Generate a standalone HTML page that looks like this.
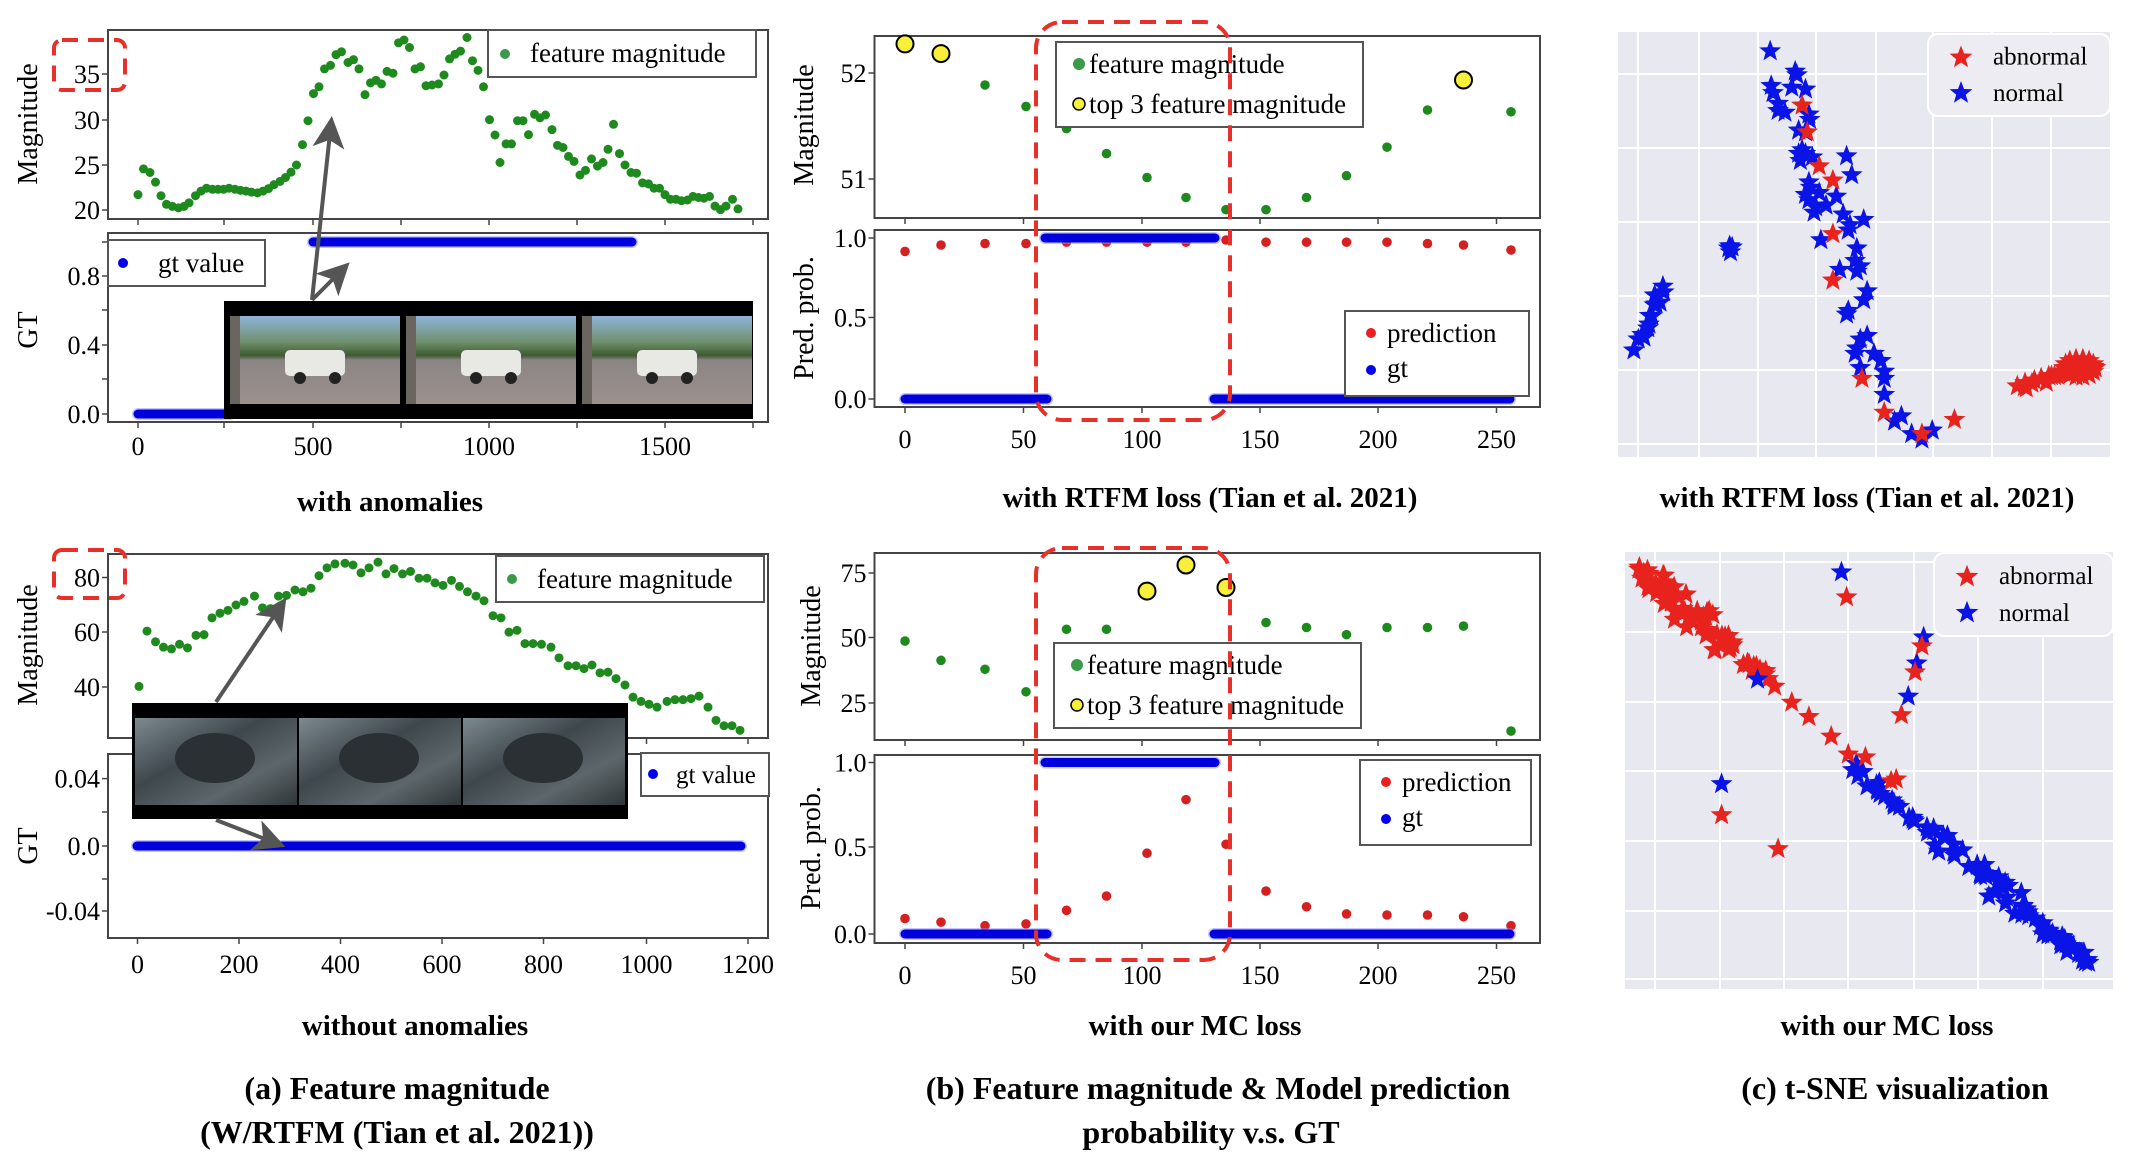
<!DOCTYPE html>
<html><head><meta charset="utf-8"><style>
html,body{margin:0;padding:0;background:#fff;}
svg{display:block;font-family:"Liberation Serif",serif;}
</style></head><body>
<svg id="s" width="2134" height="1162" viewBox="0 0 2134 1162" xmlns="http://www.w3.org/2000/svg">
<defs>
<linearGradient id="sky" x1="0" y1="0" x2="0" y2="1">
<stop offset="0" stop-color="#8fb4dc"/><stop offset="0.3" stop-color="#6f8f6a"/><stop offset="0.45" stop-color="#3d5a30"/><stop offset="0.5" stop-color="#8a8584"/><stop offset="1" stop-color="#9c918e"/>
</linearGradient>
<linearGradient id="night" x1="0" y1="0" x2="1" y2="1">
<stop offset="0" stop-color="#7d8a90"/><stop offset="0.4" stop-color="#3e474c"/><stop offset="0.7" stop-color="#5d676b"/><stop offset="1" stop-color="#2f3538"/>
</linearGradient>
<marker id="ah" markerWidth="8" markerHeight="8" refX="6" refY="4" orient="auto" markerUnits="strokeWidth"><path d="M0,0 L8,4 L0,8 L2,4 Z" fill="#555"/></marker>
</defs>
<g id="g"></g>
</svg>
<script>
const NS="http://www.w3.org/2000/svg";const G=document.getElementById('g');
function el(t,a,txt){const e=document.createElementNS(NS,t);for(const k in a)e.setAttribute(k,a[k]);if(txt!==undefined)e.textContent=txt;G.appendChild(e);return e;}
function txt(x,y,s,o){o=o||{};const a={x:x,y:y,'font-size':o.fs||26,'text-anchor':o.anchor||'middle',fill:'#000'};if(o.bold)a['font-weight']='bold';if(o.rot)a.transform='rotate(-90 '+x+' '+y+')';el('text',a,s);}
function box(x1,y1,x2,y2){el('rect',{x:x1,y:y1,width:x2-x1,height:y2-y1,fill:'none',stroke:'#444','stroke-width':2});}
function dot(x,y,r,f){el('circle',{cx:x,cy:y,r:r,fill:f});}
function yt(x,y,l,fs){el('line',{x1:x-6,y1:y,x2:x,y2:y,stroke:'#444','stroke-width':1.5});if(l!==null)txt(x-8,y+9,l,{anchor:'end',fs:fs||26});}
function xt(x,y,l,ly){el('line',{x1:x,y1:y,x2:x,y2:y+6,stroke:'#444','stroke-width':1.5});if(l!==null)txt(x,ly,l,{fs:26});}
function gtline(x1,x2,y){el('line',{x1:x1,y1:y,x2:x2,y2:y,stroke:'#8c8cff','stroke-width':12,'stroke-linecap':'round',opacity:0.5});el('line',{x1:x1,y1:y,x2:x2,y2:y,stroke:'#0000dd','stroke-width':9,'stroke-linecap':'round'});}
function legbox(x1,y1,x2,y2){el('rect',{x:x1,y:y1,width:x2-x1,height:y2-y1,fill:'#fff',stroke:'#555','stroke-width':2});}
function dashrect(x1,y1,x2,y2,r){el('rect',{x:x1,y:y1,width:x2-x1,height:y2-y1,rx:r,ry:r,fill:'none',stroke:'#e8302a','stroke-width':4,'stroke-dasharray':'16 10'});}
const GREEN='#1e8a1e';
box(108,30,768,219);
[[35,74],[30,120],[25,165],[20,210]].forEach(t=>yt(108,t[1],String(t[0])));
[138,224,313,401,489,577,665,753].forEach(x=>xt(x,219,null));
const aT=[[276,545],[287,473],[300,483],[311,510],[322,548],[333,572],[345,578],[357,582],[368,578],[378,568],[391,548],[402,535],[413,527],[425,530],[436,530],[447,530],[458,527],[470,530],[481,533],[492,535],[503,538],[515,540],[526,535],[537,528],[548,517],[560,508],[571,497],[582,482],[593,462],[605,405],[616,338],[627,262],[638,243],[649,193],[661,183],[672,153],[683,145],[696,175],[707,167],[718,193],[730,265],[741,232],[752,225],[763,235],[774,200],[786,205],[797,120],[808,112],[819,133],[830,193],[841,187],[852,240],[864,238],[877,235],[888,210],[899,165],[910,152],[921,143],[934,105],[945,170],[956,197],[967,243],[979,335],[990,378],[1000,455],[1012,403],[1023,403],[1035,338],[1046,338],[1057,377],[1069,320],[1080,330],[1091,322],[1104,363],[1115,407],[1126,413],[1137,438],[1148,452],[1160,490],[1171,477],[1183,445],[1195,465],[1206,455],[1216,418],[1227,348],[1239,430],[1250,462],[1262,483],[1273,485],[1285,512],[1297,515],[1308,527],[1319,527],[1330,545],[1341,558],[1352,558],[1363,562],[1375,560],[1386,550],[1397,553],[1408,555],[1419,550],[1430,577],[1441,587],[1452,577],[1465,558],[1476,585]];
aT.forEach(p=>dot(p[0]/2,p[1]/2.8,4.5,GREEN));
legbox(488,30,756,77);dot(505,54,5,'#3a9a4a');txt(530,62,'feature magnitude',{anchor:'start',fs:27});
txt(37,124,'Magnitude',{rot:1,fs:28});
dashrect(54,40,125,90,8);
box(108,233,768,422);
[[0.8,276,'0.8'],[0.6,310,null],[0.4,345,'0.4'],[0.2,379,null],[0,414,'0.0'],[1,242,null]].forEach(t=>yt(108,t[1],t[2]));
[138,224,313,401,489,577,665,753].forEach((x,i)=>xt(x,422,[ '0',null,'500',null,'1000',null,'1500',null][i],455));
gtline(138,230,414);gtline(313,632,242);
legbox(108,240,265,286);dot(123,263,5,'#0000ee');txt(158,272,'gt value',{anchor:'start',fs:27});
txt(37,330,'GT',{rot:1,fs:28});
el('rect',{x:224,y:301,width:529,height:118,fill:'#000'});
for(let i=0;i<3;i++){const x=230+i*176;el('rect',{x:x,y:316,width:170,height:88,fill:'url(#sky)'});
el('rect',{x:x,y:316,width:10,height:88,fill:'#6b6560'});
el('rect',{x:x+55,y:350,width:60,height:26,rx:5,fill:'#e8e8e4'});el('circle',{cx:x+70,cy:378,r:6,fill:'#222'});el('circle',{cx:x+105,cy:378,r:6,fill:'#222'});}
el('line',{x1:312,y1:300,x2:331,y2:124,stroke:'#555','stroke-width':4,'marker-end':'url(#ah)'});
el('line',{x1:312,y1:300,x2:344,y2:268,stroke:'#555','stroke-width':4,'marker-end':'url(#ah)'});
txt(390,511,'with anomalies',{bold:1,fs:29});
box(108,554,768,738);
[[80,577.5],[60,632],[40,687]].forEach(t=>yt(108,t[1],String(t[0])));
[137.5,239,340.5,442,543.5,646.5,748].forEach(x=>xt(x,738,null));
const aB=[[278,410],[294,255],[311,285],[327,300],[343,305],[359,292],[375,302],[392,267],[408,265],[424,218],[440,205],[456,197],[472,182],[488,172],[509,157],[525,190],[541,192],[557,157],[573,155],[590,140],[606,145],[622,135],[638,100],[654,78],[670,67],[690,65],[706,70],[722,92],[738,78],[756,62],[772,95],[788,80],[805,95],[821,88],[838,107],[854,107],[870,120],[886,127],[903,113],[919,130],[935,145],[952,157],[968,170],[986,212],[1002,218],[1018,258],[1034,253],[1050,290],[1066,290],[1083,292],[1102,300],[1118,330],[1136,352],[1152,352],[1168,360],[1184,350],[1200,372],[1216,370],[1232,388],[1250,406],[1266,440],[1282,452],[1298,460],[1314,468],[1334,452],[1350,447],[1366,447],[1382,444],[1398,437],[1416,468],[1432,505],[1448,520],[1464,520],[1480,533]];
aB.forEach(p=>dot(p[0]/2,540+p[1]/2.8,4.5,GREEN));
legbox(496,556,764,602);dot(512,579,5,'#3a9a4a');txt(537,588,'feature magnitude',{anchor:'start',fs:27});
txt(37,645,'Magnitude',{rot:1,fs:28});
dashrect(54,550,125,598,8);
box(108,754,768,938);
[[778.6,'0.04'],[812,null],[846,'0.0'],[879,null],[911,'-0.04']].forEach(t=>yt(108,t[0],t[1]));
['0','200','400','600','800','1000','1200'].forEach((l,i)=>xt([137.5,239,340.5,442,543.5,646.5,748][i],938,l,973));
gtline(137,741,846);
legbox(641,753,769,796);dot(653,774,5,'#0000ee');txt(676,783,'gt value',{anchor:'start',fs:25});
txt(37,846,'GT',{rot:1,fs:28});
el('rect',{x:132,y:703,width:496,height:116,fill:'#000'});
for(let i=0;i<3;i++){const x=135+i*164;el('rect',{x:x,y:718,width:162,height:87,fill:'url(#night)'});el('ellipse',{cx:x+80,cy:758,rx:40,ry:25,fill:'#2a3033'});}
el('line',{x1:216,y1:702,x2:282,y2:604,stroke:'#555','stroke-width':4,'marker-end':'url(#ah)'});
el('line',{x1:216,y1:820,x2:278,y2:844,stroke:'#555','stroke-width':4,'marker-end':'url(#ah)'});
txt(415,1035,'without anomalies',{bold:1,fs:29});
txt(397,1099,'(a) Feature magnitude',{bold:1,fs:32});
txt(397,1143,'(W/RTFM (Tian et al. 2021))',{bold:1,fs:32});
const bx=[250,322,410,492,573,653,734,812,892,972,1053,1133,1214,1295,1367,1462].map(v=>780+v/2);
const bxt=[905,1023.5,1142,1260,1378,1496.5];
function bPanel(oy,magBox,magTicks,magY,yel,predBox,predTicks,predY,legT,legB,gtLow,gtHigh){
 box(874.5,magBox[0],1540,magBox[1]);
 magTicks.forEach(t=>yt(874.5,t[1],t[0]));
 bxt.forEach(x=>xt(x,magBox[1],null));
 magY.forEach((y,i)=>{if(yel.indexOf(i)>=0){el('circle',{cx:bx[i],cy:oy+y/2.8,r:8.5,fill:'#f7ef3a',stroke:'#000','stroke-width':2});}else dot(bx[i],oy+y/2.8,4.8,GREEN);});
 box(874.5,predBox[0],1540,predBox[1]);
 predTicks.forEach(t=>yt(874.5,t[1],t[0]));
 bxt.forEach((x,i)=>xt(x,predBox[1],['0','50','100','150','200','250'][i],predBox[1]+41));
 predY.forEach((y,i)=>dot(bx[i],oy+y/2.8,4.8,'#d42020'));
 gtline(905,1047,gtLow);gtline(1045,1215,gtHigh);gtline(1214,1510,gtLow);
 legbox(legT[0],legT[1],legT[2],legT[3]);
 dot(legT[0]+23,legT[1]+22,6,'#3a9a4a');txt(legT[0]+33,legT[1]+31,'feature magnitude',{anchor:'start',fs:27});
 el('circle',{cx:legT[0]+23,cy:legT[1]+62,r:6,fill:'#f7ef3a',stroke:'#000','stroke-width':1.5});txt(legT[0]+33,legT[1]+71,'top 3 feature magnitude',{anchor:'start',fs:27});
 legbox(legB[0],legB[1],legB[2],legB[3]);
 dot(legB[0]+26,legB[1]+22,5,'#e82020');txt(legB[0]+42,legB[1]+31,'prediction',{anchor:'start',fs:27});
 dot(legB[0]+26,legB[1]+59,5,'#0000ee');txt(legB[0]+42,legB[1]+66,'gt',{anchor:'start',fs:27});
}
bPanel(0,[36,218],[['52',73],['51',179]],[123,150,238,298,360,430,497,553,587,587,553,492,412,308,224,313],[0,1,14],
 [230,407],[['1.0',238],['0.5',317.5],['0.0',399]],[704,686,682,682,678,678,678,678,672,678,678,678,678,682,686,700],
 [1056,42,1363,127],[1345,311,1529,396],399,238);
txt(813,125,'Magnitude',{rot:1,fs:28});txt(813,318,'Pred. prob.',{rot:1,fs:28});
dashrect(1036,22,1230,420,26);
txt(1210,507,'with RTFM loss (Tian et al. 2021)',{bold:1,fs:29});
bPanel(540,[553,740],[['75',573],['50',637.5],['25',703]],[283,337,362,425,250,250,143,70,133,231,245,265,245,245,241,535],[6,7,8],
 [755,943],[['1.0',762.5],['0.5',847],['0.0',934]],[1060,1070,1080,1075,1037,997,877,727,852,983,1027,1047,1050,1050,1055,1080],
 [1054,643,1361,728],[1360,760,1531,845],934,762.5);
txt(820,646,'Magnitude',{rot:1,fs:28});txt(820,848,'Pred. prob.',{rot:1,fs:28});
dashrect(1036,548,1230,960,26);
txt(1195,1035,'with our MC loss',{bold:1,fs:29});
txt(1218,1099,'(b) Feature magnitude & Model prediction',{bold:1,fs:32});
txt(1211,1143,'probability v.s. GT',{bold:1,fs:32});
let seed=7;function rnd(){seed=(seed*16807)%2147483647;return (seed-1)/2147483646;}
const SR=11.5;
function star(x,y,r,f){let d='';for(let i=0;i<10;i++){const a=-Math.PI/2+i*Math.PI/5;const rr=i%2?r*0.42:r;d+=(i?'L':'M')+(x+rr*Math.cos(a)).toFixed(1)+','+(y+rr*Math.sin(a)).toFixed(1);}el('path',{d:d+'Z',fill:f});}
const RED='#e8231e',BLUE='#0a14e6';
function tsneBg(x1,y1,x2,y2,vx,hy){el('rect',{x:x1,y:y1,width:x2-x1,height:y2-y1,fill:'#e8e8f0'});vx.forEach(x=>el('line',{x1:x,y1:y1,x2:x,y2:y2,stroke:'#fff','stroke-width':2}));hy.forEach(y=>el('line',{x1:x1,y1:y,x2:x2,y2:y,stroke:'#fff','stroke-width':2}));}
function seg(ax,ay,bx2,by,n,sp,f){for(let i=0;i<n;i++){const t=n>1?i/(n-1):0;star(ax+(bx2-ax)*t+(rnd()-.5)*sp,ay+(by-ay)*t+(rnd()-.5)*sp,SR,f);}}
function tleg(x1,y1,x2,y2){el('rect',{x:x1,y:y1,width:x2-x1,height:y2-y1,rx:10,fill:'#ececf2',stroke:'#fff','stroke-width':2});star(x1+33,y1+(y2-y1)*0.25+3,12,RED);txt(x1+65,y1+(y2-y1)*0.25+10,'abnormal',{anchor:'start',fs:25});star(x1+33,y1+(y2-y1)*0.72,12,BLUE);txt(x1+65,y1+(y2-y1)*0.72+8,'normal',{anchor:'start',fs:25});}
tsneBg(1618,32,2110,457,[1638,1699,1758,1816,1876,1933,1992,2051],[74,148,222,296,370,444]);
function Z3(zx,zy){return [1600+zx/2.92,zy/2.8];}
let p1=Z3(112,970),p2=Z3(180,800);seg(p1[0],p1[1],p2[0],p2[1],14,9,BLUE);
let c=Z3(375,700);seg(c[0],c[1],c[0]+3,c[1]-3,4,5,BLUE);
[[497,143],[570,200],[575,210],[500,240],[505,260],[560,245],[600,250],[540,315],[520,310],[610,320],[612,335],[600,370],[580,365],[600,430],[590,420],[620,440],[585,450],[720,437],[735,490],[610,510],[640,540],[610,560],[600,545],[690,550],[630,580],[660,575],[710,600],[770,615],[730,630],[725,645],[645,672],[750,695],[700,755],[760,745],[750,760],[745,730],[780,815],[770,840],[725,870],[720,880],[780,940],[750,975],[745,990],[800,990],[820,1010],[760,1030],[830,1040],[830,1060],[830,1105],[880,1165],[860,1180],[910,1215],[970,1205],[940,1230],[615,525],[625,595],[580,430],[520,290],[760,950]].forEach(p=>{const q=Z3(p[0],p[1]);star(q[0],q[1],SR,BLUE);});
[[590,295],[605,370],[640,465],[680,505],[680,655],[680,785],[765,1060],[830,1155],[940,1215],[1035,1175]].forEach(p=>{const q=Z3(p[0],p[1]);star(q[0],q[1],SR,RED);});
p1=Z3(1220,1085);p2=Z3(1450,1020);seg(p1[0],p1[1],p2[0],p2[1],24,7,RED);
for(let i=0;i<14;i++){const a=i/14*Math.PI*2;const q=Z3(1400+45*Math.cos(a),1030+25*Math.sin(a));star(q[0],q[1],SR,RED);}
tleg(1928,34,2110,116);
txt(1867,507,'with RTFM loss (Tian et al. 2021)',{bold:1,fs:29});
tsneBg(1625,552,2113,989,[1655,1720,1784,1848,1914,1978,2043],[562,632,702,771,841,911,979]);
function Z6(zx,zy){return [1600+zx/2.92,540+zy/2.8];}
for(let i=0;i<60;i++){const t=rnd();const q=Z6(130+250*t+(rnd()-.5)*70,100+200*t+(rnd()-.5)*60);star(q[0],q[1],SR,RED);}
for(let i=0;i<12;i++){const t=rnd();const q=Z6(410+80*t+(rnd()-.5)*30,330+50*t+(rnd()-.5)*30);star(q[0],q[1],SR,RED);}
[[460,390],[705,90],[945,272],[925,345],[900,438],[355,683]].forEach(p=>{const q=Z6(p[0],p[1]);star(q[0],q[1],SR,BLUE);});
for(let i=0;i<90;i++){const t=rnd();const w=(t>0.35&&t<0.7)?80:35;const q=Z6(730+710*t+(rnd()-.5)*w*0.6,630+570*t+(rnd()-.5)*w);star(q[0],q[1],SR,BLUE);}
[[510,410],[560,455],[610,495],[675,550],[725,600],[775,608],[850,675],[865,670],[720,160],[940,297],[920,370],[880,490],[355,770],[520,865]].forEach(p=>{const q=Z6(p[0],p[1]);star(q[0],q[1],SR,RED);});
tleg(1934,553,2113,636);
txt(1887,1035,'with our MC loss',{bold:1,fs:29});
txt(1895,1099,'(c) t-SNE visualization',{bold:1,fs:32});
</script>
</body></html>
